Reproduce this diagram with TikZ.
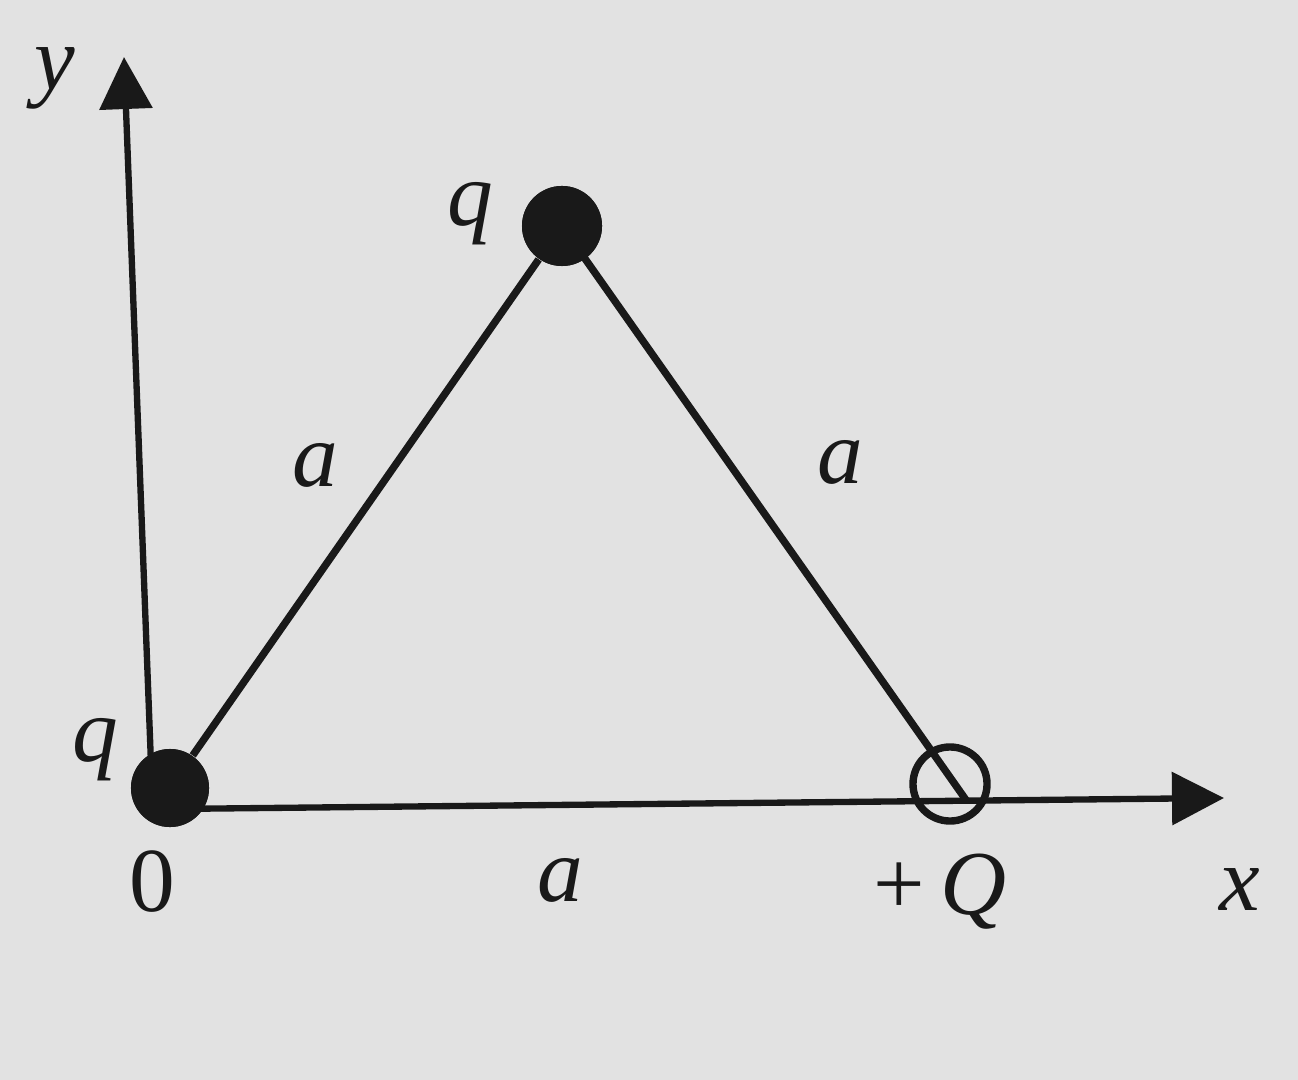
\documentclass[tikz,border=0pt]{standalone}
\usepackage{fontspec}
\setmainfont{Liberation Serif}
\usetikzlibrary{arrows.meta}
\definecolor{bg}{RGB}{226,226,226}
\definecolor{ink}{RGB}{25,25,25}
\begin{document}
\begin{tikzpicture}[x=0.01cm,y=-0.01cm,
  lbl/.style={font=\fontsize{26}{30}\selectfont\itshape, text=ink, inner sep=0pt},
  num/.style={font=\fontsize{26}{30}\selectfont, text=ink, inner sep=0pt},
  charge/.style={circle, fill=ink, minimum size=0.78cm, inner sep=0pt},
  opencharge/.style={circle, draw=ink, line width=2.1pt, minimum size=0.74cm, inner sep=0pt},
  axis/.style={draw=ink, line width=1.8pt, -{Triangle[length=0.52cm,width=0.52cm]}},
  side/.style={draw=ink, line width=2.1pt}]
\fill[bg] (0,0) rectangle (1298,1080);
\useasboundingbox (0,0) rectangle (1298,1080);
% nodes
\node[charge] (O) at (170,788) {};
\node[charge, minimum size=0.8cm] (T) at (562,226) {};
\node[opencharge] (Q) at (950,784) {};
\coordinate (yb) at (152,790);
\coordinate (yt) at (124,57);
\coordinate (xb) at (170,809);
\coordinate (xt) at (1224,798);
\coordinate (qx) at (966,800);
% axes
\draw[axis] (yb) -- (yt);
\draw[axis] (xb) -- (xt);
% triangle sides
\draw[side] (O) -- (T);
\draw[side] (T.center) -- (qx);
% redraw nodes on top
\node[charge] at (O) {};
\node[charge, minimum size=0.8cm] at (T) {};
% labels
\node[lbl] (ly) at (55,78) {y};
\node[lbl] (lq1) at (470,214) {q};
\node[lbl] (lq0) at (95,750) {q};
\node[num] (l0) at (152,882) {0};
\node[lbl] (la1) at (315,465) {a};
\node[lbl] (la2) at (840,462) {a};
\node[lbl] (la3) at (560,880) {a};
\node[num] (lQ) at (940,892) {+\,\textit{Q}};
\node[lbl] (lx) at (1240,890) {x};
\end{tikzpicture}
\end{document}
